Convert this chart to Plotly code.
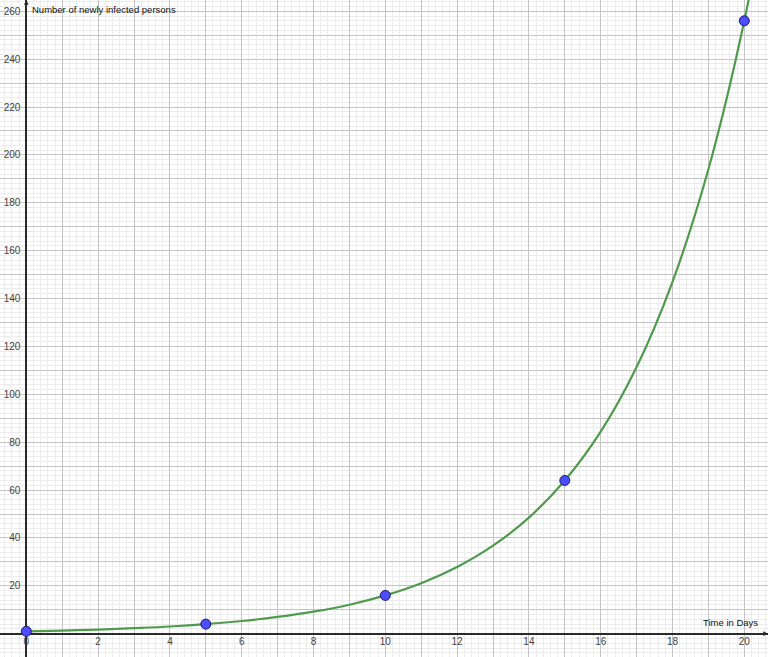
import plotly.graph_objects as go

# measured points (day, newly infected)
days = [0, 5, 10, 15, 20]
infected = [1, 4, 16, 64, 256]

# fitted curve, values
curve_days = [0, 1, 2, 3, 4, 5, 6, 7, 8, 9, 10, 11, 12, 13, 14, 15, 16, 17, 18, 19, 20, 20.5, 20.8]
curve_vals = [1, 1.3, 1.7, 2.3, 3, 4, 5.3, 7, 9.2, 12.1, 16, 21.1, 27.9, 36.8, 48.5, 64,
              84.4, 111.4, 147, 194, 256, 296, 323]

x_ticks = list(range(0, 21))
x_labels = [str(v) if v % 2 == 0 else "" for v in x_ticks]
y_ticks = list(range(0, 261, 10))
y_labels = [str(v) if v % 20 == 0 and v != 0 else "" for v in y_ticks]

x_title = "Time in Days"
y_title = "Number of newly infected persons"

font = "Liberation Sans, Arial, sans-serif"

fig = go.Figure()

fig.add_trace(go.Scatter(
    x=curve_days, y=curve_vals, mode="lines", line_shape="spline",
    line=dict(color="#4f9a4d", width=2.2), hoverinfo="skip"
))

fig.add_trace(go.Scatter(
    x=days, y=infected, mode="markers",
    marker=dict(size=10, color="#4d4dff", line=dict(color="#1a1a66", width=1)),
    cliponaxis=False
))

fig.update_layout(
    width=768, height=657,
    margin=dict(l=0, r=0, t=0, b=0, pad=0, autoexpand=False),
    paper_bgcolor="white", plot_bgcolor="white",
    showlegend=False,
    font=dict(family=font, size=10, color="#444444"),
    xaxis=dict(
        range=[-0.733, 20.66], tickvals=x_ticks, ticktext=x_labels,
        showgrid=True, gridcolor="#c4c4c4", gridwidth=1,
        minor=dict(dtick=0.2, showgrid=True, gridcolor="#ececec", gridwidth=1),
        zeroline=True, zerolinecolor="#2a2a2a", zerolinewidth=1.5,
        anchor="free", position=0.0355, ticks="", ticklabelstandoff=0,
        showline=False, fixedrange=True, automargin=False
    ),
    yaxis=dict(
        range=[-9.73, 264.7], tickvals=y_ticks, ticktext=y_labels,
        showgrid=True, gridcolor="#c4c4c4", gridwidth=1,
        minor=dict(dtick=2, showgrid=True, gridcolor="#ececec", gridwidth=1),
        zeroline=True, zerolinecolor="#2a2a2a", zerolinewidth=1.5,
        anchor="free", position=0.0343, ticks="", ticklabelstandoff=6,
        showline=False, fixedrange=True, automargin=False
    ),
)

# axis arrows and titles
fig.add_annotation(x=20.66, y=0, ax=-6, ay=0, xref="x", yref="y",
                   showarrow=True, arrowhead=2, arrowsize=0.8, arrowwidth=1.2,
                   arrowcolor="#2a2a2a", text="")
fig.add_annotation(x=0, y=264.7, ax=0, ay=6, xref="x", yref="y",
                   showarrow=True, arrowhead=2, arrowsize=0.8, arrowwidth=1.2,
                   arrowcolor="#2a2a2a", text="")
fig.add_annotation(x=20.44, y=1.5, xref="x", yref="y", text=x_title, showarrow=False,
                   xanchor="right", yanchor="bottom",
                   font=dict(family=font, size=9.5, color="#111111"))
fig.add_annotation(x=0.1, y=264, xref="x", yref="y", text=y_title, showarrow=False,
                   xanchor="left", yanchor="top",
                   font=dict(family=font, size=9.5, color="#111111"))

# the page's default body margin would shift the figure by 8px
fig.write_html("out.html", config={"displayModeBar": False},
               post_script="document.body.style.margin='0';")
